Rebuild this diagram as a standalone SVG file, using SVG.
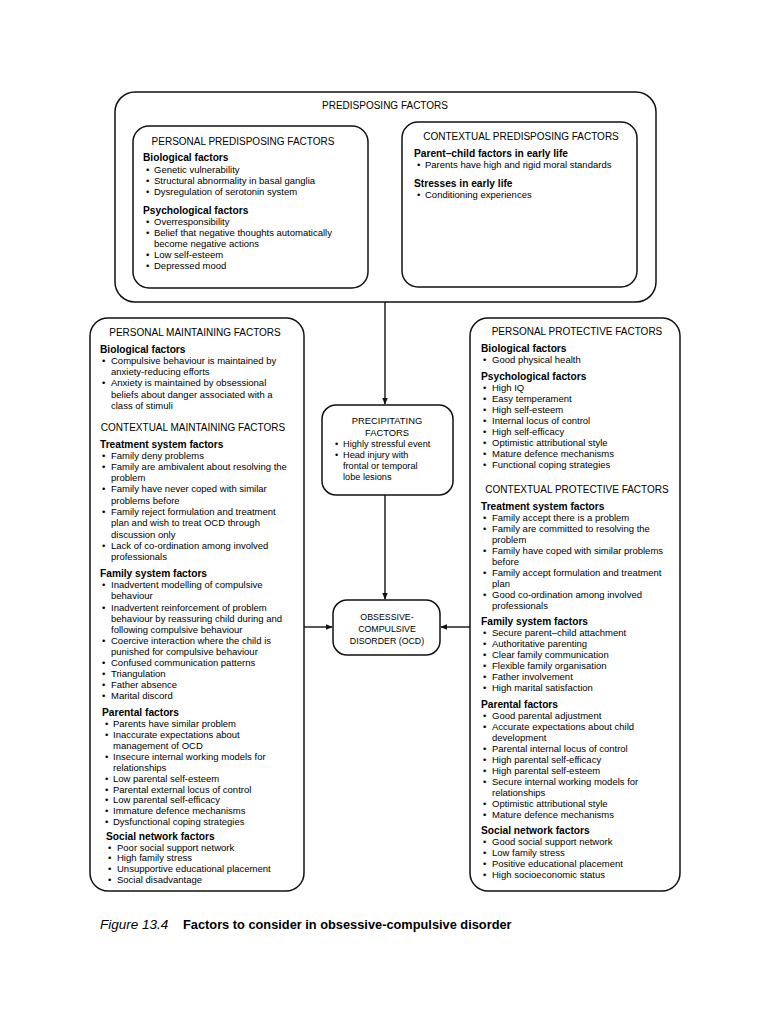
<svg xmlns="http://www.w3.org/2000/svg" width="768" height="1024" viewBox="0 0 768 1024">
<style>
text{font-family:"Liberation Sans",Arial,sans-serif;fill:#000;}
.t{font-size:9.5px;}
.tp{font-size:9.2px;}
.h{font-size:10.2px;font-weight:bold;}
.c{font-size:10px;text-anchor:middle;}
.cb{font-size:8.8px;text-anchor:middle;}
.box{fill:#fff;stroke:#111;stroke-width:1.5;}
.ln{stroke:#111;stroke-width:1.4;fill:none;}
</style>
<defs>
<marker id="ah" viewBox="0 0 10 10" refX="9" refY="5" markerWidth="7" markerHeight="7" orient="auto" markerUnits="userSpaceOnUse">
<path d="M0,1 L10,5 L0,9 Z" fill="#111"/>
</marker>
</defs>
<rect width="768" height="1024" fill="#fff"/>

<g id="predisposing">
<rect class="box" x="115" y="92" width="541" height="210" rx="20"/>
<text class="c" x="385" y="109">PREDISPOSING FACTORS</text>
</g>

<g id="personal-predisposing">
<rect class="box" x="133" y="126" width="235" height="162" rx="16"/>
<text class="c" x="243" y="145">PERSONAL PREDISPOSING FACTORS</text>
<text class="h" x="143" y="161">Biological factors</text>
<text class="t" y="173"><tspan x="146">•</tspan><tspan x="154">Genetic vulnerability</tspan></text>
<text class="t" y="184"><tspan x="146">•</tspan><tspan x="154">Structural abnormality in basal ganglia</tspan></text>
<text class="t" y="195"><tspan x="146">•</tspan><tspan x="154">Dysregulation of serotonin system</tspan></text>
<text class="h" x="143" y="214">Psychological factors</text>
<text class="t" y="225"><tspan x="146">•</tspan><tspan x="154">Overresponsibility</tspan></text>
<text class="t" y="236"><tspan x="146">•</tspan><tspan x="154">Belief that negative thoughts automatically</tspan></text>
<text class="t" x="154" y="247">become negative actions</text>
<text class="t" y="258"><tspan x="146">•</tspan><tspan x="154">Low self-esteem</tspan></text>
<text class="t" y="269"><tspan x="146">•</tspan><tspan x="154">Depressed mood</tspan></text>
</g>

<g id="contextual-predisposing">
<rect class="box" x="402" y="122" width="235" height="165" rx="16"/>
<text class="c" x="521" y="140">CONTEXTUAL PREDISPOSING FACTORS</text>
<text class="h" x="414" y="157">Parent–child factors in early life</text>
<text class="t" y="168"><tspan x="417">•</tspan><tspan x="425">Parents have high and rigid moral standards</tspan></text>
<text class="h" x="414" y="187">Stresses in early life</text>
<text class="t" y="198"><tspan x="417">•</tspan><tspan x="425">Conditioning experiences</tspan></text>
</g>

<g id="maintaining">
<rect class="box" x="90" y="318" width="214" height="573" rx="18"/>
<text class="c" x="195" y="336">PERSONAL MAINTAINING FACTORS</text>
<text class="h" x="100" y="353">Biological factors</text>
<text class="t" y="364"><tspan x="102">•</tspan><tspan x="111">Compulsive behaviour is maintained by</tspan></text>
<text class="t" x="111" y="375">anxiety-reducing efforts</text>
<text class="t" y="386"><tspan x="102">•</tspan><tspan x="111">Anxiety is maintained by obsessional</tspan></text>
<text class="t" x="111" y="398">beliefs about danger associated with a</text>
<text class="t" x="111" y="409">class of stimuli</text>
<text class="c" x="193" y="431">CONTEXTUAL MAINTAINING FACTORS</text>
<text class="h" x="100" y="448">Treatment system factors</text>
<text class="t" y="459"><tspan x="102">•</tspan><tspan x="111">Family deny problems</tspan></text>
<text class="t" y="470"><tspan x="102">•</tspan><tspan x="111">Family are ambivalent about resolving the</tspan></text>
<text class="t" x="111" y="481">problem</text>
<text class="t" y="492"><tspan x="102">•</tspan><tspan x="111">Family have never coped with similar</tspan></text>
<text class="t" x="111" y="504">problems before</text>
<text class="t" y="515"><tspan x="102">•</tspan><tspan x="111">Family reject formulation and treatment</tspan></text>
<text class="t" x="111" y="526">plan and wish to treat OCD through</text>
<text class="t" x="111" y="538">discussion only</text>
<text class="t" y="549"><tspan x="102">•</tspan><tspan x="111">Lack of co-ordination among involved</tspan></text>
<text class="t" x="111" y="560">professionals</text>
<text class="h" x="100" y="577">Family system factors</text>
<text class="t" y="588"><tspan x="102">•</tspan><tspan x="111">Inadvertent modelling of compulsive</tspan></text>
<text class="t" x="111" y="599">behaviour</text>
<text class="t" y="611"><tspan x="102">•</tspan><tspan x="111">Inadvertent reinforcement of problem</tspan></text>
<text class="t" x="111" y="622">behaviour by reassuring child during and</text>
<text class="t" x="111" y="633">following compulsive behaviour</text>
<text class="t" y="644"><tspan x="102">•</tspan><tspan x="111">Coercive interaction where the child is</tspan></text>
<text class="t" x="111" y="655">punished for compulsive behaviour</text>
<text class="t" y="666"><tspan x="102">•</tspan><tspan x="111">Confused communication patterns</tspan></text>
<text class="t" y="677"><tspan x="102">•</tspan><tspan x="111">Triangulation</tspan></text>
<text class="t" y="688"><tspan x="102">•</tspan><tspan x="111">Father absence</tspan></text>
<text class="t" y="699"><tspan x="102">•</tspan><tspan x="111">Marital discord</tspan></text>
<text class="h" x="102" y="716">Parental factors</text>
<text class="t" y="727"><tspan x="105">•</tspan><tspan x="113">Parents have similar problem</tspan></text>
<text class="t" y="738"><tspan x="105">•</tspan><tspan x="113">Inaccurate expectations about</tspan></text>
<text class="t" x="113" y="749">management of OCD</text>
<text class="t" y="760"><tspan x="105">•</tspan><tspan x="113">Insecure internal working models for</tspan></text>
<text class="t" x="113" y="771">relationships</text>
<text class="t" y="782"><tspan x="105">•</tspan><tspan x="113">Low parental self-esteem</tspan></text>
<text class="t" y="793"><tspan x="105">•</tspan><tspan x="113">Parental external locus of control</tspan></text>
<text class="t" y="803"><tspan x="105">•</tspan><tspan x="113">Low parental self-efficacy</tspan></text>
<text class="t" y="814"><tspan x="105">•</tspan><tspan x="113">Immature defence mechanisms</tspan></text>
<text class="t" y="825"><tspan x="105">•</tspan><tspan x="113">Dysfunctional coping strategies</tspan></text>
<text class="h" x="106" y="840">Social network factors</text>
<text class="t" y="851"><tspan x="108">•</tspan><tspan x="117">Poor social support network</tspan></text>
<text class="t" y="861"><tspan x="108">•</tspan><tspan x="117">High family stress</tspan></text>
<text class="t" y="872"><tspan x="108">•</tspan><tspan x="117">Unsupportive educational placement</tspan></text>
<text class="t" y="883"><tspan x="108">•</tspan><tspan x="117">Social disadvantage</tspan></text>
</g>

<g id="protective">
<rect class="box" x="470" y="318" width="210" height="573" rx="18"/>
<text class="c" x="577" y="335">PERSONAL PROTECTIVE FACTORS</text>
<text class="h" x="481" y="352">Biological factors</text>
<text class="t" y="363"><tspan x="483">•</tspan><tspan x="492">Good physical health</tspan></text>
<text class="h" x="481" y="380">Psychological factors</text>
<text class="t" y="391"><tspan x="483">•</tspan><tspan x="492">High IQ</tspan></text>
<text class="t" y="402"><tspan x="483">•</tspan><tspan x="492">Easy temperament</tspan></text>
<text class="t" y="413"><tspan x="483">•</tspan><tspan x="492">High self-esteem</tspan></text>
<text class="t" y="424"><tspan x="483">•</tspan><tspan x="492">Internal locus of control</tspan></text>
<text class="t" y="435"><tspan x="483">•</tspan><tspan x="492">High self-efficacy</tspan></text>
<text class="t" y="446"><tspan x="483">•</tspan><tspan x="492">Optimistic attributional style</tspan></text>
<text class="t" y="457"><tspan x="483">•</tspan><tspan x="492">Mature defence mechanisms</tspan></text>
<text class="t" y="468"><tspan x="483">•</tspan><tspan x="492">Functional coping strategies</tspan></text>
<text class="c" x="577" y="493">CONTEXTUAL PROTECTIVE FACTORS</text>
<text class="h" x="481" y="510">Treatment system factors</text>
<text class="t" y="521"><tspan x="483">•</tspan><tspan x="492">Family accept there is a problem</tspan></text>
<text class="t" y="532"><tspan x="483">•</tspan><tspan x="492">Family are committed to resolving the</tspan></text>
<text class="t" x="492" y="543">problem</text>
<text class="t" y="554"><tspan x="483">•</tspan><tspan x="492">Family have coped with similar problems</tspan></text>
<text class="t" x="492" y="565">before</text>
<text class="t" y="576"><tspan x="483">•</tspan><tspan x="492">Family accept formulation and treatment</tspan></text>
<text class="t" x="492" y="587">plan</text>
<text class="t" y="598"><tspan x="483">•</tspan><tspan x="492">Good co-ordination among involved</tspan></text>
<text class="t" x="492" y="609">professionals</text>
<text class="h" x="481" y="625">Family system factors</text>
<text class="t" y="636"><tspan x="483">•</tspan><tspan x="492">Secure parent–child attachment</tspan></text>
<text class="t" y="647"><tspan x="483">•</tspan><tspan x="492">Authoritative parenting</tspan></text>
<text class="t" y="658"><tspan x="483">•</tspan><tspan x="492">Clear family communication</tspan></text>
<text class="t" y="669"><tspan x="483">•</tspan><tspan x="492">Flexible family organisation</tspan></text>
<text class="t" y="680"><tspan x="483">•</tspan><tspan x="492">Father involvement</tspan></text>
<text class="t" y="691"><tspan x="483">•</tspan><tspan x="492">High marital satisfaction</tspan></text>
<text class="h" x="481" y="708">Parental factors</text>
<text class="t" y="719"><tspan x="483">•</tspan><tspan x="492">Good parental adjustment</tspan></text>
<text class="t" y="730"><tspan x="483">•</tspan><tspan x="492">Accurate expectations about child</tspan></text>
<text class="t" x="492" y="741">development</text>
<text class="t" y="752"><tspan x="483">•</tspan><tspan x="492">Parental internal locus of control</tspan></text>
<text class="t" y="763"><tspan x="483">•</tspan><tspan x="492">High parental self-efficacy</tspan></text>
<text class="t" y="774"><tspan x="483">•</tspan><tspan x="492">High parental self-esteem</tspan></text>
<text class="t" y="785"><tspan x="483">•</tspan><tspan x="492">Secure internal working models for</tspan></text>
<text class="t" x="492" y="796">relationships</text>
<text class="t" y="807"><tspan x="483">•</tspan><tspan x="492">Optimistic attributional style</tspan></text>
<text class="t" y="818"><tspan x="483">•</tspan><tspan x="492">Mature defence mechanisms</tspan></text>
<text class="h" x="481" y="834">Social network factors</text>
<text class="t" y="845"><tspan x="483">•</tspan><tspan x="492">Good social support network</tspan></text>
<text class="t" y="856"><tspan x="483">•</tspan><tspan x="492">Low family stress</tspan></text>
<text class="t" y="867"><tspan x="483">•</tspan><tspan x="492">Positive educational placement</tspan></text>
<text class="t" y="878"><tspan x="483">•</tspan><tspan x="492">High socioeconomic status</tspan></text>
</g>

<g id="precipitating">
<rect class="box" x="322" y="405" width="131" height="90" rx="14"/>
<text class="c" x="387" y="424" style="font-size:9.4px">PRECIPITATING</text>
<text class="c" x="387" y="436" style="font-size:9.4px">FACTORS</text>
<text class="tp" y="447"><tspan x="335">•</tspan><tspan x="343">Highly stressful event</tspan></text>
<text class="tp" y="458"><tspan x="335">•</tspan><tspan x="343">Head injury with</tspan></text>
<text class="tp" x="343" y="469">frontal or temporal</text>
<text class="tp" x="343" y="480">lobe lesions</text>
</g>

<g id="ocd">
<rect class="box" x="333" y="600" width="107" height="55" rx="14"/>
<text class="cb" x="387" y="620">OBSESSIVE-</text>
<text class="cb" x="387" y="632">COMPULSIVE</text>
<text class="cb" x="387" y="644">DISORDER (OCD)</text>
</g>

<g id="connectors">
<line class="ln" x1="385" y1="302" x2="385" y2="404" marker-end="url(#ah)"/>
<line class="ln" x1="385" y1="495" x2="385" y2="599" marker-end="url(#ah)"/>
<line class="ln" x1="304" y1="627" x2="332" y2="627" marker-end="url(#ah)"/>
<line class="ln" x1="470" y1="627" x2="441" y2="627" marker-end="url(#ah)"/>
</g>

<g id="caption">
<text x="100" y="929" style="font-size:13.5px;font-style:italic;">Figure 13.4</text>
<text x="183" y="929" style="font-size:12.8px;font-weight:bold;">Factors to consider in obsessive-compulsive disorder</text>
</g>
</svg>
